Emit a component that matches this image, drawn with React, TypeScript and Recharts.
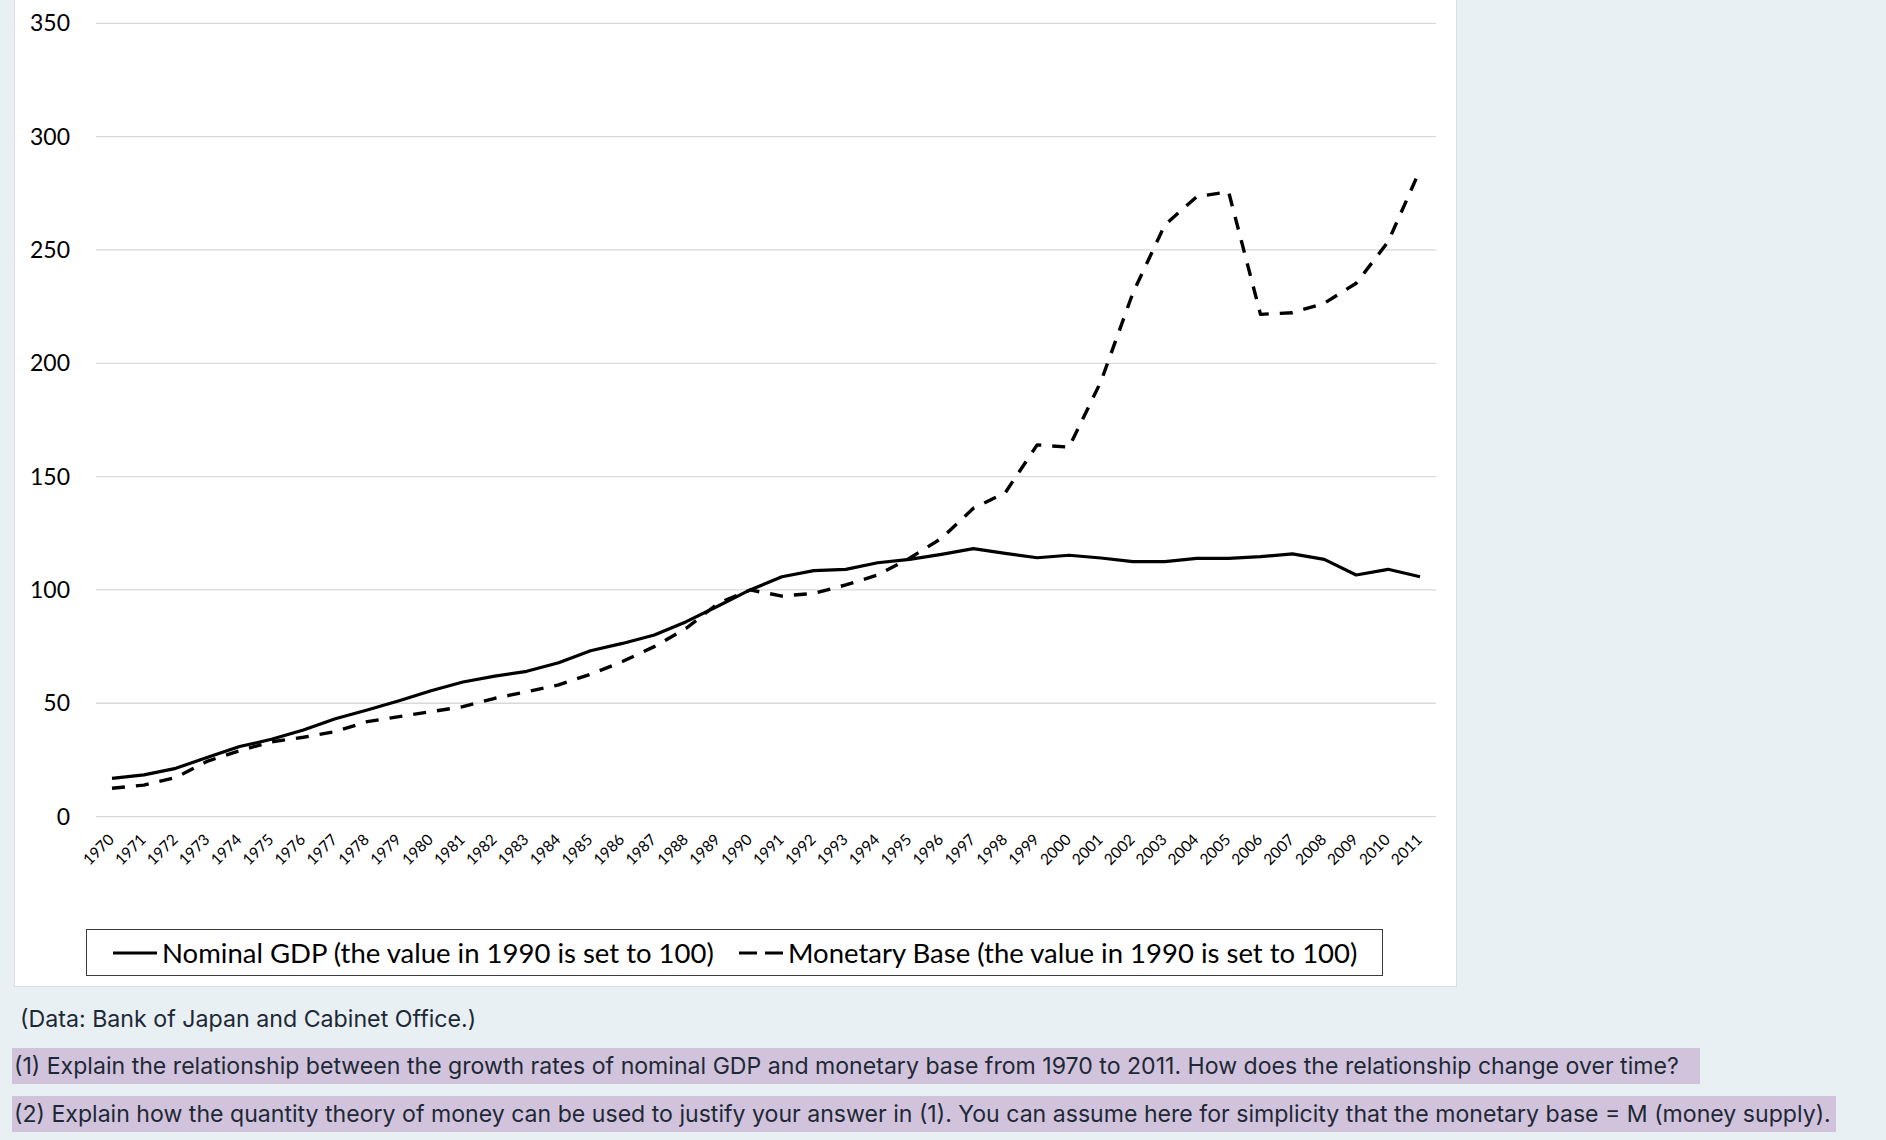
import React from 'react';
import { LineChart, Line, XAxis, YAxis, CartesianGrid, Legend } from 'recharts';

// Japan, index 1990 = 100
const years = [
  '1970', '1971', '1972', '1973', '1974', '1975', '1976', '1977', '1978', '1979',
  '1980', '1981', '1982', '1983', '1984', '1985', '1986', '1987', '1988', '1989',
  '1990', '1991', '1992', '1993', '1994', '1995', '1996', '1997', '1998', '1999',
  '2000', '2001', '2002', '2003', '2004', '2005', '2006', '2007', '2008', '2009',
  '2010', '2011',
];

const nominalGdp = [
  16.9, 18.4, 21.3, 26.2, 30.9, 34.1, 38.2, 43.2, 47.0, 51.1,
  55.5, 59.4, 62.0, 64.1, 67.9, 73.2, 76.4, 80.1, 86.0, 92.9,
  100, 105.8, 108.5, 109.1, 112.0, 113.5, 115.7, 118.2, 116.1, 114.2,
  115.3, 114.1, 112.5, 112.5, 113.9, 113.9, 114.7, 115.9, 113.5, 106.6,
  109.1, 105.8,
];

const monetaryBase = [
  12.5, 13.9, 17.3, 24.5, 29.1, 33.0, 35.0, 37.5, 41.9, 44.1,
  46.3, 48.5, 52.2, 55.1, 58.1, 62.8, 68.4, 75.0, 83.1, 94.1,
  100, 97.3, 98.5, 102.2, 106.6, 114.0, 122.8, 136.0, 142.9, 164.0,
  163.0, 192.0, 231.0, 261.0, 273.5, 275.7, 221.6, 222.3, 226.5, 235.3,
  253.6, 285.3,
];

const yTicks = [0, 50, 100, 150, 200, 250, 300, 350];

const gdpLabel = 'Nominal GDP (the value in 1990 is set to 100)';
const baseLabel = 'Monetary Base (the value in 1990 is set to 100)';
const legendOrder = ['gdp', 'base'];

const sourceNote = '(Data: Bank of Japan and Cabinet Office.)';
const questions = [
  '(1) Explain the relationship between the growth rates of nominal GDP and monetary base from 1970 to 2011. How does the relationship change over time?',
  '(2) Explain how the quantity theory of money can be used to justify your answer in (1). You can assume here for simplicity that the monetary base = M (money supply).',
];

const data = years.map((year, i) => ({
  year,
  gdp: nominalGdp[i],
  base: monetaryBase[i],
}));

const chartFont = 'Lato, "Open Sans", sans-serif';
const pageFont = 'Inter, "Liberation Sans", Arial, sans-serif';

const YearTick = ({ x, y, payload }: any) => {
  const ax = x + 3;
  const ay = y + 24;
  return (
    <text
      x={ax}
      y={ay}
      transform={`rotate(-45, ${ax}, ${ay})`}
      textAnchor="end"
      fontSize={15.5}
      fontFamily={chartFont}
      fill="#000"
    >
      {payload.value}
    </text>
  );
};

const legendLeft = [26, 652];

const renderLegend = ({ payload }: any) => {
  // keep series order instead of the alphabetical default
  const items = legendOrder
    .map((key) => (payload || []).find((p: any) => p.dataKey === key))
    .filter(Boolean);
  return (
    <div
      style={{
        position: 'relative',
        boxSizing: 'border-box',
        width: 1297,
        height: 47,
        border: '1px solid #3c3c3c',
        background: '#fff',
        fontFamily: chartFont,
        fontSize: 27.5,
        color: '#000',
      }}
    >
      {items.map((entry: any, i: number) => {
        const dashed = entry.dataKey === 'base';
        return (
          <div
            key={entry.value}
            style={{
              position: 'absolute',
              left: legendLeft[i],
              top: 0,
              height: 45,
              display: 'flex',
              alignItems: 'center',
              whiteSpace: 'nowrap',
            }}
          >
            <svg width={46} height={10} style={{ marginRight: 3 }}>
              <line
                x1={0}
                y1={5}
                x2={dashed ? 46 : 44}
                y2={5}
                stroke="#000"
                strokeWidth={3.2}
                strokeDasharray={dashed ? '18 8' : undefined}
              />
            </svg>
            <span>{entry.value}</span>
          </div>
        );
      })}
    </div>
  );
};

export default function App() {
  return (
    <div
      style={{
        position: 'absolute',
        left: 0,
        top: 0,
        width: 1886,
        height: 1140,
        overflow: 'hidden',
        background: '#e8f0f3',
        fontFamily: pageFont,
      }}
    >
      <div
        style={{
          position: 'absolute',
          left: 14,
          top: -1,
          width: 1443,
          height: 988,
          boxSizing: 'border-box',
          background: '#fff',
          border: '1px solid #d9dfe2',
        }}
      />
      <div style={{ position: 'absolute', left: 0, top: 0 }}>
        <LineChart
          width={1457}
          height={990}
          data={data}
          margin={{ top: 23.3, right: 21, bottom: 113.4, left: 0 }}
        >
          <CartesianGrid vertical={false} stroke="#d9d9d9" strokeWidth={1.3} />
          <XAxis
            dataKey="year"
            interval={0}
            height={60}
            tickSize={0}
            tickMargin={0}
            axisLine={false}
            tickLine={false}
            padding={{ left: 16, right: 16 }}
            tick={<YearTick />}
          />
          <YAxis
            width={96}
            domain={[0, 350]}
            ticks={yTicks}
            tickSize={0}
            tickMargin={26}
            axisLine={false}
            tickLine={false}
            tick={{ fontSize: 23, fontFamily: chartFont, fill: '#000' }}
          />
          <Legend
            layout="horizontal"
            verticalAlign="middle"
            align="center"
            content={renderLegend}
            wrapperStyle={{ left: 86, top: 929, width: 1297, height: 47 }}
          />
          <Line
            type="linear"
            dataKey="gdp"
            name={gdpLabel}
            stroke="#000"
            strokeWidth={3.2}
            strokeLinejoin="round"
            dot={false}
            activeDot={false}
            isAnimationActive={false}
          />
          <Line
            type="linear"
            dataKey="base"
            name={baseLabel}
            stroke="#000"
            strokeWidth={3.4}
            strokeDasharray="13 11"
            strokeLinejoin="round"
            dot={false}
            activeDot={false}
            isAnimationActive={false}
          />
        </LineChart>
      </div>

      <div
        style={{
          position: 'absolute',
          left: 20,
          top: 1006,
          fontSize: 23.2,
          lineHeight: '26px',
          color: '#1d2935',
          whiteSpace: 'nowrap',
        }}
      >
        {sourceNote}
      </div>

      {questions.map((q, i) => (
        <div
          key={q}
          style={{
            position: 'absolute',
            left: 12,
            top: 1048 + i * 48,
            width: i === 0 ? 1688 : 1824,
            height: 36,
            background: '#d2c3dc',
            boxSizing: 'border-box',
            paddingLeft: 2,
            fontSize: 23.1,
            lineHeight: '36px',
            color: '#1d2935',
            whiteSpace: 'nowrap',
          }}
        >
          {q}
        </div>
      ))}
    </div>
  );
}
